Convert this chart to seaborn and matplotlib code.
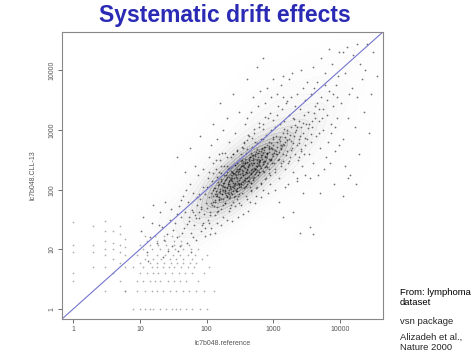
import numpy as np
import pandas as pd
import seaborn as sns
import matplotlib.pyplot as plt

# main cloud as log10 intensities
ref_log = [
    1.02, 1.10, 1.18, 1.25, 1.30, 1.35, 1.40, 1.45, 1.48, 1.20, 1.05, 1.33, 1.42, 1.15, 1.38, 1.46, 1.28, 1.12, 1.50, 1.36,
    1.52, 1.55, 1.58, 1.60, 1.62, 1.65, 1.66, 1.68, 1.70, 1.72, 1.74, 1.75, 1.77, 1.78, 1.80, 1.81, 1.83, 1.84, 1.86, 1.87,
    1.88, 1.90, 1.91, 1.92, 1.94, 1.95, 1.96, 1.97, 1.98, 1.99, 1.56, 1.63, 1.69, 1.73, 1.79, 1.85, 1.89, 1.93, 1.57, 1.67,
    1.82, 1.76, 1.95, 1.61, 1.71,
    2.00, 2.01, 2.02, 2.03, 2.04, 2.05, 2.06, 2.07, 2.08, 2.09, 2.10, 2.11, 2.12, 2.13, 2.14, 2.15, 2.16, 2.17, 2.18, 2.19,
    2.20, 2.21, 2.22, 2.23, 2.24, 2.25, 2.26, 2.27, 2.28, 2.29, 2.30, 2.31, 2.32, 2.33, 2.34, 2.35, 2.36, 2.37, 2.38, 2.39,
    2.40, 2.41, 2.42, 2.43, 2.44, 2.45, 2.46, 2.47, 2.48, 2.49, 2.03, 2.07, 2.12, 2.16, 2.21, 2.25, 2.30, 2.34, 2.38, 2.43,
    2.47, 2.02, 2.06, 2.10, 2.14, 2.18, 2.22, 2.26, 2.30, 2.34, 2.38, 2.42, 2.46, 2.05, 2.15, 2.20, 2.28, 2.35, 2.40, 2.45,
    2.24, 2.29, 2.33, 2.37, 2.41, 2.44, 2.48, 2.19, 2.27, 2.36, 2.09, 2.31, 2.48,
    2.50, 2.51, 2.52, 2.53, 2.54, 2.55, 2.56, 2.57, 2.58, 2.59, 2.60, 2.61, 2.62, 2.63, 2.64, 2.65, 2.66, 2.67, 2.68, 2.69,
    2.70, 2.71, 2.72, 2.73, 2.74, 2.75, 2.76, 2.77, 2.78, 2.79, 2.80, 2.81, 2.82, 2.83, 2.84, 2.85, 2.86, 2.87, 2.88, 2.89,
    2.90, 2.91, 2.92, 2.93, 2.94, 2.95, 2.96, 2.97, 2.98, 2.99, 2.52, 2.57, 2.62, 2.67, 2.72, 2.77, 2.82, 2.87, 2.92, 2.97,
    2.54, 2.58, 2.63, 2.68, 2.73, 2.78, 2.83, 2.88, 2.93, 2.98, 2.51, 2.56, 2.61, 2.66, 2.71, 2.76, 2.81, 2.86, 2.91, 2.96,
    2.55, 2.65, 2.75, 2.85, 2.95, 2.60, 2.70, 2.80, 2.90, 2.99, 2.64, 2.69, 2.74, 2.79, 2.84, 2.89, 2.94, 2.59, 2.53, 2.66,
    3.00, 3.01, 3.02, 3.03, 3.04, 3.05, 3.06, 3.07, 3.08, 3.09, 3.10, 3.11, 3.12, 3.13, 3.14, 3.15, 3.16, 3.17, 3.18, 3.19,
    3.20, 3.21, 3.22, 3.23, 3.24, 3.25, 3.26, 3.27, 3.28, 3.29, 3.30, 3.31, 3.32, 3.33, 3.34, 3.35, 3.36, 3.37, 3.38, 3.39,
    3.40, 3.41, 3.42, 3.43, 3.44, 3.45, 3.46, 3.47, 3.48, 3.49, 3.02, 3.08, 3.12, 3.18, 3.24, 3.30, 3.36, 3.42, 3.48, 3.05,
    3.15, 3.22, 3.28, 3.35, 3.45, 3.10, 3.20, 3.26, 3.32, 3.40, 3.04, 3.14, 3.16, 3.38, 3.46,
    3.50, 3.52, 3.54, 3.56, 3.58, 3.60, 3.62, 3.64, 3.66, 3.68, 3.70, 3.72, 3.74, 3.76, 3.78, 3.80, 3.82, 3.84, 3.86, 3.88,
    3.90, 3.92, 3.94, 3.96, 3.98, 3.51, 3.55, 3.59, 3.63, 3.67, 3.71, 3.75, 3.79, 3.83, 3.87, 3.91, 3.95, 3.99, 3.53, 3.57,
    3.61, 3.65, 3.69, 3.73, 3.77, 3.81, 3.85, 3.89, 3.93, 3.97,
    4.02, 4.05, 4.08, 4.10, 4.12, 4.15, 4.18, 4.20, 4.22, 4.25, 4.28, 4.30, 4.33, 4.36, 4.40, 4.43, 4.46, 4.50, 4.04, 4.14,
    4.26, 4.38, 4.07, 4.24, 4.55,
    1.55, 1.75, 1.90, 2.20, 2.40, 2.60, 2.75, 2.85, 3.15, 3.40, 3.55, 3.70, 3.60, 4.05, 4.12,
]
cll_log = [
    1.30, 0.95, 1.45, 1.10, 1.62, 0.88, 1.25, 1.50, 1.05, 1.75, 1.55, 1.38, 0.98, 1.20, 1.80, 1.68, 1.40, 0.80, 1.32, 1.15,
    1.45, 1.20, 1.72, 1.05, 1.55, 1.90, 1.35, 1.62, 1.10, 1.80, 1.48, 2.10, 1.28, 1.66, 1.95, 1.40, 1.58, 1.15, 1.75, 2.25,
    1.52, 1.85, 1.30, 1.68, 2.05, 1.45, 1.60, 1.92, 1.22, 1.78, 1.60, 1.28, 2.00, 1.55, 1.20, 1.88, 1.62, 1.40, 0.98, 2.30,
    2.40, 0.95, 2.35, 1.82, 1.42,
    1.70, 2.05, 1.50, 1.88, 2.30, 1.62, 1.95, 1.35, 2.15, 1.80, 2.45, 1.72, 2.02, 1.58, 1.90, 2.22, 1.45, 2.08, 1.85, 2.60,
    1.98, 1.68, 2.28, 1.92, 2.12, 1.55, 2.40, 2.00, 1.78, 2.18, 2.05, 1.88, 2.35, 1.65, 2.22, 2.02, 2.55, 1.95, 2.15, 1.80,
    2.28, 2.08, 1.72, 2.42, 1.98, 2.20, 2.65, 1.90, 2.32, 2.10, 2.55, 2.75, 1.28, 2.85, 1.40, 3.00, 1.50, 2.80, 1.48, 2.95,
    1.55, 2.20, 1.78, 2.00, 2.35, 2.10, 1.85, 2.05, 2.40, 1.92, 2.30, 2.12, 1.85, 1.25, 1.62, 2.50, 2.62, 1.70, 2.60, 2.45,
    1.75, 2.25, 2.10, 2.38, 1.88, 2.25, 2.05, 2.30, 1.95, 2.18, 3.10, 3.20, 3.30,
    2.35, 2.10, 2.60, 1.95, 2.45, 2.25, 2.80, 2.05, 2.52, 2.30, 1.85, 2.68, 2.40, 2.15, 2.90, 2.55, 2.28, 2.00, 2.72, 2.45,
    2.20, 2.95, 2.60, 2.35, 1.90, 2.78, 2.50, 2.25, 3.05, 2.65, 2.40, 2.10, 2.85, 2.58, 2.32, 3.10, 2.72, 2.48, 2.18, 2.92,
    2.62, 2.38, 3.20, 2.80, 2.52, 2.25, 3.00, 2.70, 2.45, 2.88, 1.75, 3.10, 1.65, 3.30, 1.78, 3.40, 1.88, 3.45, 1.95, 3.55,
    2.70, 2.15, 2.50, 2.35, 2.80, 2.30, 2.70, 2.55, 2.35, 2.60, 2.48, 2.38, 2.20, 2.62, 2.45, 2.68, 2.55, 2.30, 2.75, 2.50,
    1.60, 1.80, 2.05, 2.00, 2.10, 3.20, 3.55, 3.65, 3.70, 3.85, 2.42, 2.58, 2.40, 2.48, 2.85, 2.40, 2.68, 2.62, 2.28, 2.12,
    2.75, 2.45, 3.05, 2.30, 2.90, 2.60, 3.25, 2.50, 2.85, 2.20, 3.10, 2.70, 2.40, 3.35, 2.95, 2.60, 3.15, 2.35, 2.80, 3.45,
    2.65, 3.00, 2.45, 3.25, 2.85, 2.55, 3.55, 3.05, 2.70, 2.30, 3.20, 2.90, 2.60, 3.40, 3.00, 2.75, 3.60, 2.50, 3.15, 2.85,
    3.35, 2.65, 3.05, 2.40, 3.70, 2.95, 3.25, 2.75, 3.50, 3.10, 2.00, 1.80, 3.75, 2.05, 3.85, 1.62, 2.15, 4.00, 2.25, 3.60,
    3.90, 2.10, 3.95, 2.20, 1.95, 2.88, 2.95, 2.82, 3.08, 2.90, 2.65, 2.48, 2.75, 2.55, 2.60,
    2.85, 3.30, 2.60, 3.60, 3.05, 2.45, 3.40, 2.90, 3.80, 3.15, 2.70, 3.55, 3.00, 2.35, 3.95, 3.25, 2.80, 3.65, 3.10, 4.10,
    3.40, 2.65, 3.75, 3.20, 4.30, 3.80, 2.20, 4.05, 3.20, 2.25, 4.20, 3.35, 2.55, 4.35, 2.95, 2.10, 3.55, 2.75, 3.10, 2.80,
    3.70, 3.45, 2.95, 3.20, 3.75, 3.50, 2.45, 3.60, 3.05, 3.90,
    3.45, 2.85, 3.95, 4.40, 3.20, 2.25, 3.70, 4.25, 3.05, 3.55, 2.60, 4.10, 3.85, 3.30, 4.45, 2.95, 3.60, 4.30, 4.30, 3.60,
    4.45, 4.00, 2.40, 2.10, 3.90,
    2.55, 2.70, 2.90, 3.45, 3.60, 3.85, 4.05, 4.20, 1.55, 1.27, 1.37, 1.95, 1.25, 1.90, 2.20,
]

# extra spots in the dense core and its halo (log10 reference, log10 CLL)
core_pts = [
    (2.31, 2.02), (2.57, 2.19), (2.44, 2.31), (2.12, 1.83), (2.68, 2.41), (2.39, 1.97), (2.83, 2.52), (2.26, 2.11),
    (2.51, 2.04), (2.74, 2.29), (2.18, 1.96), (2.47, 2.27), (2.62, 2.38), (2.35, 1.88), (2.91, 2.61), (2.22, 2.08),
    (2.55, 2.13), (2.41, 2.19), (2.79, 2.47), (2.08, 1.74), (2.66, 2.26), (2.33, 2.14), (2.49, 1.93), (2.87, 2.71),
    (2.15, 1.71), (2.58, 2.45), (2.29, 1.91), (2.72, 2.57), (2.45, 2.03), (2.95, 2.49), (2.37, 2.25), (2.61, 2.09),
    (2.24, 1.99), (2.81, 2.36), (2.53, 2.33), (2.11, 2.03), (2.69, 2.16), (2.42, 2.09), (3.02, 2.66), (2.27, 1.78),
    (2.59, 2.29), (2.34, 2.36), (2.77, 2.62), (2.48, 2.17), (2.19, 1.87), (2.64, 2.51), (2.38, 1.92), (2.85, 2.43),
    (2.56, 2.02), (2.21, 2.18), (2.73, 2.34), (2.43, 2.41), (2.97, 2.78), (2.32, 1.95), (2.63, 2.22), (2.16, 1.93),
    (2.52, 2.39), (2.89, 2.55), (2.28, 2.05), (2.67, 2.33), (2.46, 1.98), (3.06, 2.72), (2.36, 2.16), (2.75, 2.44),
    (2.54, 2.24), (2.13, 1.79), (2.71, 2.21), (2.40, 2.28), (2.93, 2.64), (2.25, 1.84), (2.60, 2.35), (2.47, 2.12),
    (2.82, 2.58), (2.30, 2.22), (2.65, 2.04), (2.20, 2.01), (2.57, 2.47), (2.99, 2.57), (2.35, 2.07), (2.70, 2.49),
    (2.50, 2.26), (3.10, 2.81), (2.42, 1.90), (2.78, 2.30), (2.58, 2.37), (2.17, 2.13), (2.86, 2.67), (2.44, 2.22),
    (2.63, 2.43), (3.04, 2.59), (2.33, 1.86), (2.69, 2.53), (2.52, 2.10), (2.90, 2.45), (2.27, 2.17), (2.76, 2.39),
    (2.55, 2.31), (2.10, 1.89), (2.84, 2.61), (2.39, 2.12), (3.12, 2.69), (2.61, 2.28), (2.23, 1.93), (2.80, 2.50),
    (2.48, 2.35), (2.94, 2.73), (2.37, 2.01), (2.66, 2.45), (2.14, 1.98), (2.73, 2.26), (2.45, 2.15), (3.00, 2.85),
    (2.31, 2.29), (2.59, 2.06), (2.88, 2.38), (2.53, 2.42), (2.24, 2.07), (2.77, 2.55), (2.41, 2.03), (3.08, 2.63),
    (2.64, 2.30), (2.19, 1.82), (2.50, 2.19), (2.83, 2.68), (2.36, 2.32), (2.71, 2.37), (2.56, 2.16), (2.96, 2.52),
    (2.28, 1.97), (2.68, 2.58), (2.43, 2.26), (3.15, 2.76), (2.60, 2.46), (2.22, 2.15), (2.86, 2.48), (2.49, 2.08),
    (2.74, 2.63), (2.32, 2.10), (2.98, 2.69), (2.57, 2.27), (2.15, 1.90), (2.79, 2.41), (2.46, 2.34), (3.05, 2.80),
    (2.62, 2.14), (2.34, 2.00), (2.90, 2.59), (2.51, 2.21), (2.70, 2.32), (2.26, 2.24), (3.18, 2.88), (2.55, 2.40),
    (2.40, 2.05), (2.84, 2.46), (2.65, 2.55), (2.20, 1.95), (2.93, 2.70), (2.47, 2.30), (2.76, 2.33), (3.01, 2.62),
    (2.38, 2.20), (2.67, 2.11), (2.53, 2.50), (2.12, 1.92), (2.87, 2.57), (2.44, 2.00), (3.11, 2.75), (2.61, 2.33),
    (2.30, 1.90), (2.81, 2.65),
    (1.84, 1.52), (2.05, 1.58), (1.92, 1.71), (2.09, 2.28), (1.97, 1.36), (2.14, 2.50), (1.88, 1.93), (2.03, 1.44),
    (2.23, 2.62), (1.79, 1.63), (3.21, 2.83), (3.33, 2.97), (3.09, 2.52), (3.44, 3.12), (3.27, 2.66), (3.52, 3.03),
    (3.16, 3.02), (3.38, 2.78), (3.61, 3.28), (3.25, 2.91), (3.47, 2.87), (3.13, 2.74), (3.56, 2.93), (3.31, 3.18),
    (3.42, 2.69), (3.68, 3.35), (3.19, 2.58), (3.36, 3.05), (3.58, 3.15), (3.29, 2.79), (2.62, 2.92), (2.78, 3.12),
    (2.95, 3.28), (3.07, 3.41), (2.71, 3.02), (2.88, 3.22), (3.14, 3.55), (2.56, 2.78), (2.99, 3.16), (3.21, 3.48),
    (2.66, 1.98), (2.81, 2.12), (2.94, 2.28), (3.03, 2.35), (2.59, 1.89), (2.74, 2.02), (2.89, 2.20), (3.11, 2.44),
    (2.49, 1.78), (3.23, 2.48), (2.39, 2.60), (2.53, 2.72), (2.30, 2.55), (2.68, 2.86), (2.45, 2.67), (2.84, 3.01),
    (2.21, 2.39), (2.60, 2.84), (2.36, 1.74), (2.17, 1.64),
]

# quantised low-intensity spots (raw units), one row of reference values per CLL value
low_cll = [1, 2, 3, 4, 5, 6, 7, 8, 10, 12, 14, 17]
low_ref = [
    [8, 10, 12, 14, 16, 20, 25, 30, 35, 40, 50, 60, 80, 100],
    [6, 9, 12, 15, 18, 22, 28, 35, 45, 55, 70, 90, 130],
    [9, 11, 14, 17, 20, 26, 32, 40, 50, 75],
    [10, 13, 16, 19, 24, 30, 38, 48, 60, 90],
    [8, 11, 15, 18, 22, 27, 33, 42, 52, 65, 110],
    [10, 14, 18, 23, 29, 36, 44, 56, 70],
    [12, 16, 21, 28, 35, 45, 60, 85],
    [9, 13, 18, 24, 31, 40, 52, 68, 100],
    [11, 15, 20, 26, 34, 44, 58, 75],
    [10, 14, 19, 25, 33, 42, 55],
    [13, 18, 24, 32, 41],
    [12, 17, 23, 30, 38],
]
# columns of spots at very low reference values
col_ref = [1, 2, 3, 4, 5, 6]
col_cll = [
    [3, 4, 9, 12, 29],
    [5, 9, 12, 25],
    [2, 5, 8, 10, 14, 20, 30],
    [4, 7, 10, 13, 20],
    [3, 6, 9, 12, 18, 25],
    [2, 5, 8, 11, 15],
]

xs = [10 ** v for v in ref_log] + [10 ** p[0] for p in core_pts]
ys = [10 ** v for v in cll_log] + [10 ** p[1] for p in core_pts]
grid_x, grid_y = [], []
for c, row in zip(low_cll, low_ref):
    grid_x += row
    grid_y += [c] * len(row)
for r, col in zip(col_ref, col_cll):
    grid_x += [r] * len(col)
    grid_y += col
cloud = pd.DataFrame({'reference': xs, 'cll': ys})
grid = pd.DataFrame({'reference': grid_x, 'cll': grid_y})

sns.set_style("white")
plt.rcParams['font.family'] = ['Liberation Sans', 'DejaVu Sans']

fig = plt.figure(figsize=(4.74, 3.55), dpi=100)
ax = fig.add_axes([0.1308, 0.1014, 0.677, 0.8085])

# soft grey density underneath, so the cloud reads as dense as the original
sns.kdeplot(data=cloud, x='reference', y='cll', ax=ax, log_scale=True, fill=True,
            cmap='Greys', levels=15, thresh=0.02, bw_adjust=1.15, alpha=0.38)
sns.scatterplot(data=cloud, x='reference', y='cll', ax=ax, s=1.6, color='black',
                alpha=0.55, linewidth=0, marker='o')
sns.scatterplot(data=grid, x='reference', y='cll', ax=ax, s=1.5, color='#777777',
                alpha=0.6, linewidth=0, marker='o')

lims = [0.68, 44000]
ax.plot([0.1, 1e6], [0.1, 1e6], color='#7575cf', lw=0.8)
ax.set_xscale('log')
ax.set_yscale('log')
ax.set_xlim(lims)
ax.set_ylim(lims)

ticks = [1, 10, 100, 1000, 10000]
ax.set_xticks(ticks)
ax.set_yticks(ticks)
ax.set_xticklabels([str(t) for t in ticks])
ax.set_yticklabels([str(t) for t in ticks], rotation=90, va='center')
ax.minorticks_off()
ax.tick_params(axis='both', which='major', labelsize=5, colors='#555555',
               length=3, width=0.6, direction='out', bottom=True, left=True, pad=2)
for sp in ax.spines.values():
    sp.set_color('#888888')
    sp.set_linewidth(0.8)

ax.set_xlabel('lc7b048.reference', fontsize=5, color='#555555', labelpad=5)
ax.set_ylabel('lc7b048.CLL-13', fontsize=5, color='#555555', labelpad=8)

fig.text(0.475, 0.955, 'Systematic drift effects', ha='center', va='center',
         fontsize=16.5, fontweight='bold', color='#2a2ab5')

fig.text(0.843, 0.162, 'From: lymphoma\ndataset', ha='left', va='center',
         fontsize=6.8, color='black', linespacing=1.2)
fig.text(0.843, 0.095, 'vsn package', ha='left', va='center', fontsize=6.8)
fig.text(0.843, 0.035, 'Alizadeh et al.,\nNature 2000', ha='left', va='center',
         fontsize=6.8, linespacing=1.2)

fig.savefig('out.png', dpi=100)
